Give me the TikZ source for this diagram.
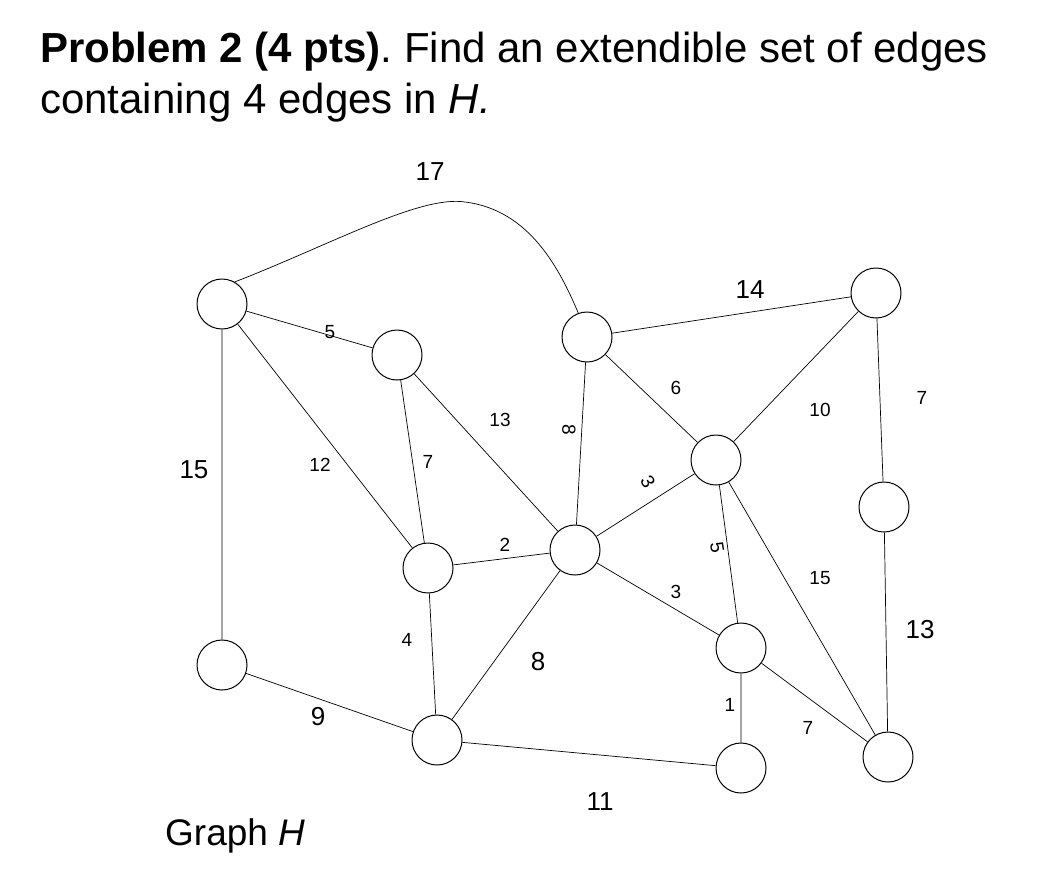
\documentclass[tikz,border=0pt]{standalone}
\usepackage{fontspec}
\setmainfont{Liberation Sans}
\frenchspacing
\begin{document}
\begin{tikzpicture}[x=1pt,y=-1pt,
  v/.style={circle,draw,line width=1pt,minimum size=50pt,inner sep=0pt},
  e/.style={draw,line width=0.7pt},
  big/.style={font=\fontsize{26}{26}\selectfont},
  sm/.style={font=\fontsize{19}{19}\selectfont}]
\useasboundingbox (0,0) rectangle (1048,886);
\node[anchor=base west,font=\fontsize{42}{42}\selectfont,inner sep=0pt] (t1) at (40,62) {\textbf{Problem 2 (4 pts)}. Find an extendible set of edges};
\node[anchor=base west,font=\fontsize{42}{42}\selectfont,inner sep=0pt] (t2) at (40,113) {containing 4 edges in \textit{H.}};
\node[anchor=base west,font=\fontsize{37}{37}\selectfont,inner sep=0pt] (gh) at (165,845) {Graph \textit{H}};
\node[v] (A) at (222,304) {};
\node[v] (B) at (397,355) {};
\node[v] (C) at (587,337) {};
\node[v] (D) at (876,293) {};
\node[v] (E) at (716,460) {};
\node[v] (F) at (884,507) {};
\node[v] (G) at (428,568) {};
\node[v] (H) at (575,550) {};
\node[v] (I) at (222,665) {};
\node[v] (J) at (437,740) {};
\node[v] (K) at (741,648) {};
\node[v] (L) at (741,768) {};
\node[v] (M) at (888,757) {};
\draw[e] (A.60) .. controls (330,245) and (420,195) .. (465,202) .. controls (530,210) and (560,270) .. (C.110);
\draw[e] (A)--(B) (A)--(G) (A)--(I) (B)--(G) (B)--(H) (C)--(H) (C)--(D) (C)--(E)
 (D)--(E) (D)--(F) (E)--(H) (E)--(K) (E)--(M) (G)--(H) (G)--(J) (H)--(K) (H)--(J)
 (I)--(J) (J)--(L) (K)--(L) (K)--(M) (F)--(M);
\node[big] (l17) at (430,172) {17};
\node[sm] (l5) at (330,332) {5};
\node[sm] (l12) at (320,465) {12};
\node[big] (l15) at (194,470) {15};
\node[sm] (l7a) at (428,462) {7};
\node[sm] (l13) at (500,420) {13};
\node[sm,rotate=-90] (l8a) at (569,430) {8};
\node[big] (l14) at (750,290) {14};
\node[sm] (l6) at (676,388) {6};
\node[sm] (l10) at (820,410) {10};
\node[sm] (l7b) at (922,398) {7};
\node[sm,rotate=-60] (l3a) at (648,482) {3};
\node[sm,rotate=-80] (l5b) at (717,548) {5};
\node[sm] (l15b) at (820,578) {15};
\node[sm] (l2) at (505,545) {2};
\node[sm] (l4) at (407,640) {4};
\node[sm] (l3b) at (676,592) {3};
\node[big] (l8b) at (538,662) {8};
\node[big] (l9) at (318,717) {9};
\node[big] (l11) at (600,802) {11};
\node[sm] (l1) at (730,705) {1};
\node[sm] (l7c) at (808,728) {7};
\node[big] (l13b) at (920,630) {13};
\end{tikzpicture}
\end{document}
